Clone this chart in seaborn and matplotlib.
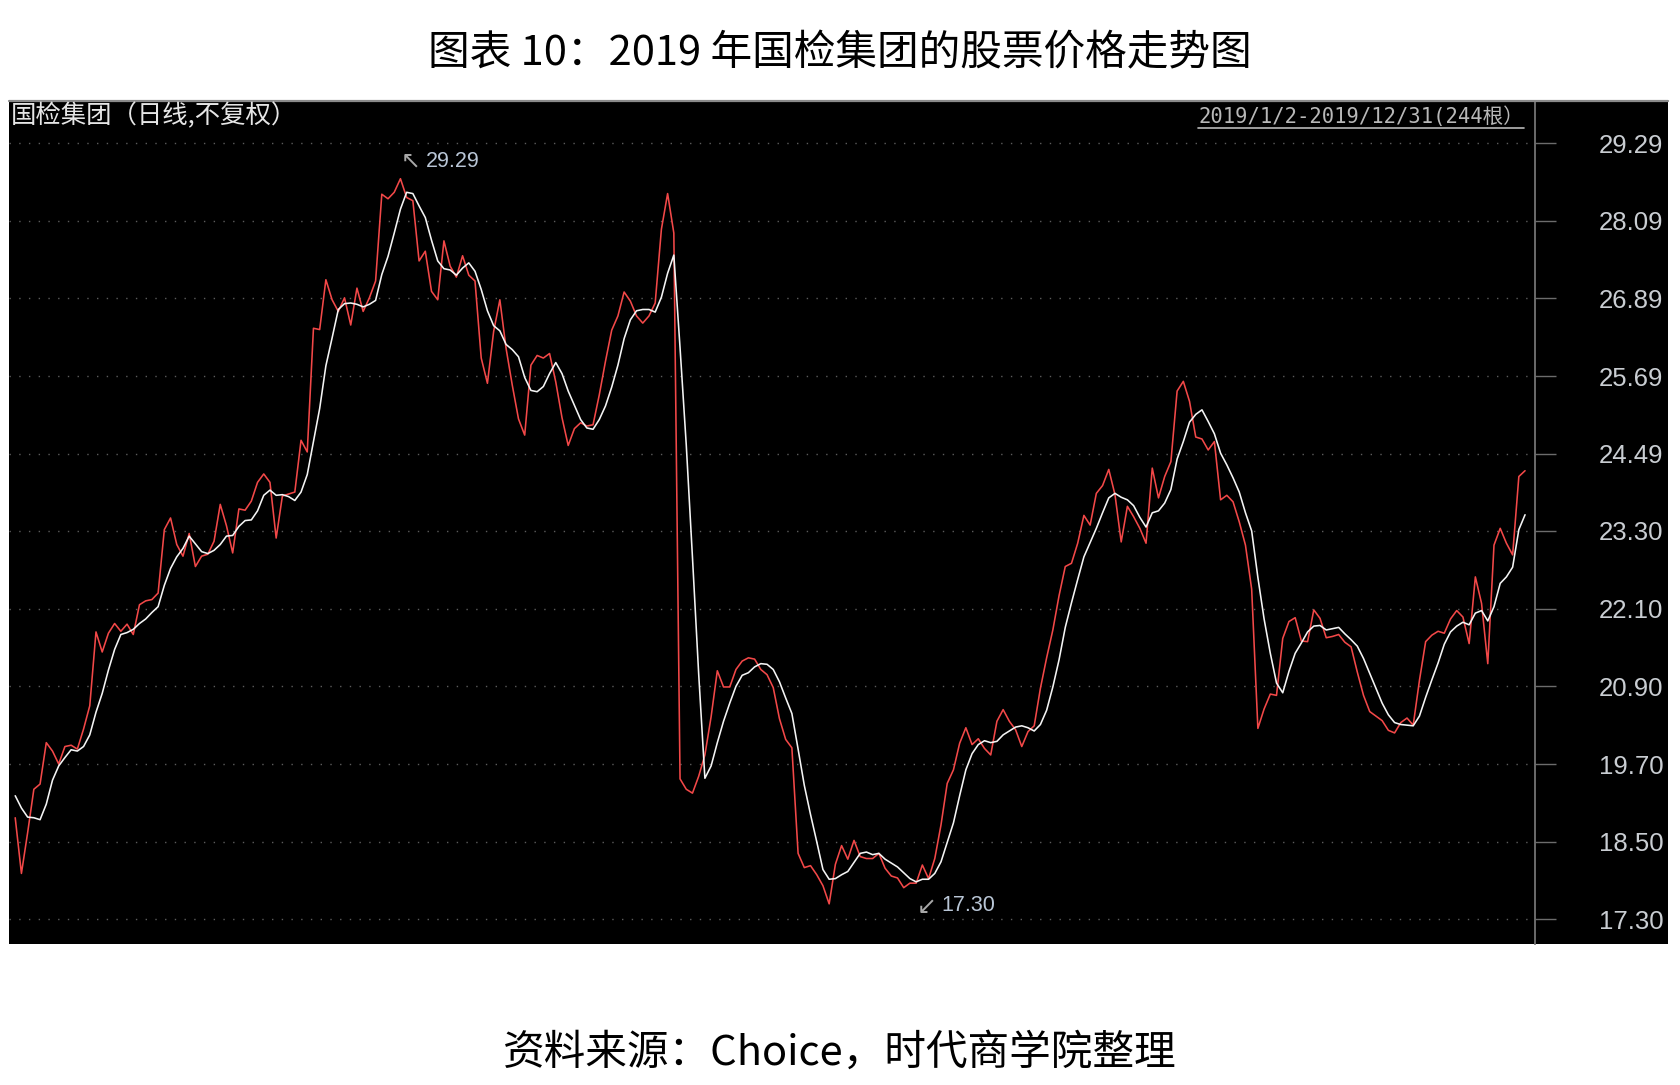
import numpy as np
import pandas as pd
import matplotlib
matplotlib.use("Agg")
import matplotlib.pyplot as plt
from matplotlib.lines import Line2D
from matplotlib.patches import Rectangle
import seaborn as sns

# ---------------- data ----------------
close = [18.87,18.01,18.64,19.31,19.39,20.03,19.90,19.70,19.97,19.99,
19.93,20.24,20.60,21.74,21.43,21.72,21.87,21.75,21.86,21.70,
22.16,22.22,22.24,22.34,23.32,23.50,23.09,22.91,23.26,22.75,
22.91,22.94,23.14,23.71,23.38,22.96,23.64,23.62,23.76,24.05,
24.18,24.05,23.19,23.84,23.87,23.90,24.70,24.52,26.43,26.41,
27.18,26.87,26.69,26.90,26.48,27.05,26.69,26.90,27.16,28.50,
28.43,28.53,28.74,28.45,28.40,27.47,27.62,27.00,26.87,27.78,
27.39,27.22,27.55,27.25,27.16,25.97,25.58,26.38,26.87,26.12,
25.55,25.03,24.78,25.86,26.01,25.97,26.04,25.60,25.05,24.62,
24.88,24.97,24.92,24.94,25.40,25.92,26.40,26.62,26.99,26.85,
26.62,26.51,26.62,26.82,27.96,28.51,27.90,19.47,19.31,19.25,
19.51,19.84,20.43,21.14,20.89,20.89,21.16,21.29,21.34,21.32,
21.16,21.08,20.88,20.40,20.08,19.95,18.32,18.10,18.13,17.99,
17.82,17.54,18.15,18.44,18.23,18.52,18.27,18.24,18.24,18.32,
18.09,17.97,17.94,17.79,17.86,17.86,18.14,17.93,18.24,18.76,
19.40,19.61,20.02,20.26,20.00,20.09,19.94,19.84,20.36,20.54,
20.36,20.23,19.97,20.20,20.29,20.87,21.34,21.77,22.30,22.75,
22.80,23.11,23.54,23.39,23.88,24.00,24.25,23.86,23.13,23.68,
23.52,23.34,23.11,24.27,23.81,24.14,24.37,25.46,25.61,25.30,
24.75,24.72,24.55,24.68,23.78,23.85,23.75,23.44,23.08,22.40,
20.25,20.55,20.78,20.76,21.64,21.90,21.96,21.60,21.59,22.08,
21.95,21.65,21.67,21.70,21.58,21.51,21.12,20.76,20.51,20.44,
20.37,20.22,20.18,20.34,20.41,20.30,20.99,21.59,21.69,21.75,
21.72,21.94,22.07,21.97,21.56,22.59,22.18,21.25,23.08,23.34,
23.11,22.93,24.14,24.23]

ma5 = [19.21,19.02,18.88,18.87,
18.84,19.08,19.45,19.67,19.80,19.92,19.90,19.97,20.15,20.50,20.79,21.15,
21.47,21.70,21.73,21.78,21.87,21.94,22.04,22.13,22.46,22.72,22.90,23.03,23.22,23.10,22.98,22.95,
23.00,23.09,23.22,23.23,23.37,23.46,23.47,23.61,23.85,23.93,23.85,23.86,23.83,23.77,23.90,24.17,
24.68,25.19,25.85,26.28,26.72,26.81,26.82,26.80,26.76,26.80,26.86,27.26,27.54,27.90,28.27,28.53,
28.51,28.32,28.14,27.79,27.47,27.35,27.33,27.25,27.36,27.44,27.31,27.03,26.70,26.47,26.39,26.18,
26.10,25.99,25.67,25.47,25.45,25.53,25.73,25.90,25.73,25.46,25.24,25.02,24.89,24.87,25.02,25.23,
25.52,25.86,26.27,26.56,26.70,26.72,26.72,26.68,26.91,27.28,27.56,26.13,24.63,22.89,21.09,19.48,
19.67,20.03,20.36,20.64,20.90,21.07,21.11,21.20,21.25,21.24,21.16,20.97,20.72,20.48,19.93,19.37,
18.92,18.50,18.07,17.92,17.93,17.99,18.04,18.18,18.32,18.34,18.30,18.32,18.23,18.17,18.11,18.02,
17.93,17.88,17.92,17.92,18.01,18.19,18.49,18.79,19.21,19.61,19.86,20.00,20.06,20.03,20.05,20.15,
20.21,20.27,20.29,20.26,20.21,20.31,20.53,20.89,21.31,21.81,22.19,22.55,22.90,23.12,23.34,23.58,
23.81,23.88,23.82,23.78,23.69,23.51,23.36,23.58,23.61,23.73,23.94,24.41,24.68,24.98,25.10,25.17,
24.99,24.80,24.50,24.32,24.12,23.90,23.58,23.30,22.58,21.94,21.41,20.95,20.80,21.13,21.41,21.57,
21.74,21.83,21.84,21.77,21.79,21.81,21.71,21.62,21.52,21.33,21.10,20.87,20.64,20.46,20.34,20.31,
20.30,20.29,20.44,20.73,21.00,21.26,21.55,21.74,21.83,21.89,21.85,22.03,22.07,21.91,22.13,22.49,
22.59,22.74,23.32,23.55]

tick_values = [17.30, 18.50, 19.70, 20.90, 22.10, 23.30, 24.49, 25.69, 26.89, 28.09, 29.29]
tick_labels = ["17.30", "18.50", "19.70", "20.90", "22.10", "23.30",
               "24.49", "25.69", "26.89", "28.09", "29.29"]

high_label, high_value, high_day = "29.29", 29.29, 62
low_label, low_value, low_day = "17.30", 17.30, 145

title = "图表 10：2019 年国检集团的股票价格走势图"
source = "资料来源：Choice，时代商学院整理"
header_left = "国检集团（日线,不复权）"
header_right = "2019/1/2-2019/12/31(244根）"

df = pd.DataFrame({"day": np.arange(len(close)), "close": close, "ma5": ma5})

# ---------------- figure ----------------
sns.set_style("dark")
plt.rcParams["font.family"] = ["Noto Sans CJK SC", "DejaVu Sans"]
plt.rcParams["axes.unicode_minus"] = False

W, H = 1680, 1085
fig = plt.figure(figsize=(W / 100, H / 100), dpi=100, facecolor="white")

def fx(px):
    return px / W

def fy(py):
    return 1 - py / H

box_l, box_r, box_t, box_b = 9, 1668, 101, 944
plot_r = 1535

# right-hand black panel for the price scale (drawn behind the axes)
fig.patches.append(Rectangle((fx(plot_r), fy(box_b)), fx(box_r - plot_r), fy(box_t) - fy(box_b),
                             transform=fig.transFigure, facecolor="black", edgecolor="none", zorder=-10))

ax = fig.add_axes([fx(box_l), fy(box_b), fx(plot_r - box_l), fy(box_t) - fy(box_b)])
ax.set_facecolor("black")
ax.set_zorder(5)

sns.lineplot(data=df, x="day", y="close", ax=ax, color="#f24848", linewidth=1.15, zorder=3)
sns.lineplot(data=df, x="day", y="ma5", ax=ax, color="#f4f4f4", linewidth=1.15, zorder=4)

ax.set_xlim(-1.0, 244.6)
ax.set_ylim(16.92, 29.94)
ax.set_xlabel("")
ax.set_ylabel("")
ax.set_xticks([])

ax.yaxis.set_ticks_position("right")
ax.set_yticks(tick_values)
ax.set_yticklabels(tick_labels)
ax.tick_params(axis="y", which="major", left=False, labelleft=False, right=True, labelright=True,
               length=15, width=1.0, color="#6c6c6c",
               labelcolor="#c9cdd2", labelsize=18.5, pad=31)
for lab in ax.get_yticklabels(which="both"):
    lab.set_family(["Liberation Sans", "DejaVu Sans"])

ax.grid(False)
ax.yaxis.grid(True, color="#5c5c5c", linestyle=(0, (1, 6)), linewidth=1.0)

for side in ["left", "bottom", "top"]:
    ax.spines[side].set_visible(False)
ax.spines["right"].set_visible(True)
ax.spines["right"].set_color("#747474")
ax.spines["right"].set_linewidth(1.3)

# top border across the whole black box
fig.lines.append(Line2D([fx(box_l), fx(box_r)], [fy(box_t), fy(box_t)], transform=fig.transFigure,
                        color="#8a8a8a", linewidth=1.6, zorder=20))

# headers inside the panel
fig.text(fx(11), fy(116), header_left, color="#e6e6e6", fontsize=18.3, ha="left", va="center",
         family=["Noto Sans CJK SC", "DejaVu Sans"], zorder=20)
hr = fig.text(fx(1524), fy(117), header_right, color="#b8b8b8", fontsize=14.8, ha="right", va="center",
              family=["DejaVu Sans Mono", "Noto Sans CJK SC"], zorder=20)

# high / low annotations
ax.annotate("↖", xy=(high_day, high_value), xytext=(0.5, -12.5), textcoords="offset points",
            color="#a8a8a8", fontsize=17, ha="left", va="center", family=["DejaVu Sans"])
ax.annotate(high_label, xy=(high_day, high_value), xytext=(18.5, -13.5), textcoords="offset points",
            color="#b9c6d6", fontsize=15.5, ha="left", va="center", family=["Liberation Sans", "DejaVu Sans"])
ax.annotate("↙", xy=(low_day, low_value), xytext=(0.5, 9), textcoords="offset points",
            color="#a8a8a8", fontsize=17, ha="left", va="center", family=["DejaVu Sans"])
ax.annotate(low_label, xy=(low_day, low_value), xytext=(18.5, 10), textcoords="offset points",
            color="#b9c6d6", fontsize=15.5, ha="left", va="center", family=["Liberation Sans", "DejaVu Sans"])

# title and source
fig.text(0.5, fy(54), title, ha="center", va="center", fontsize=30, color="black",
         family=["Noto Sans CJK SC", "DejaVu Sans"])
fig.text(0.5, fy(1053), source, ha="center", va="center", fontsize=30, color="black",
         family=["Noto Sans CJK SC", "DejaVu Sans"])

# underline for the right header
fig.canvas.draw()
bb = hr.get_window_extent(fig.canvas.get_renderer())
fig.lines.append(Line2D([bb.x0 / W, bb.x1 / W], [(bb.y0 - 1) / H, (bb.y0 - 1) / H],
                        transform=fig.transFigure, color="#b8b8b8", linewidth=1.2, zorder=20))

fig.savefig("out.png", dpi=100, facecolor="white")
